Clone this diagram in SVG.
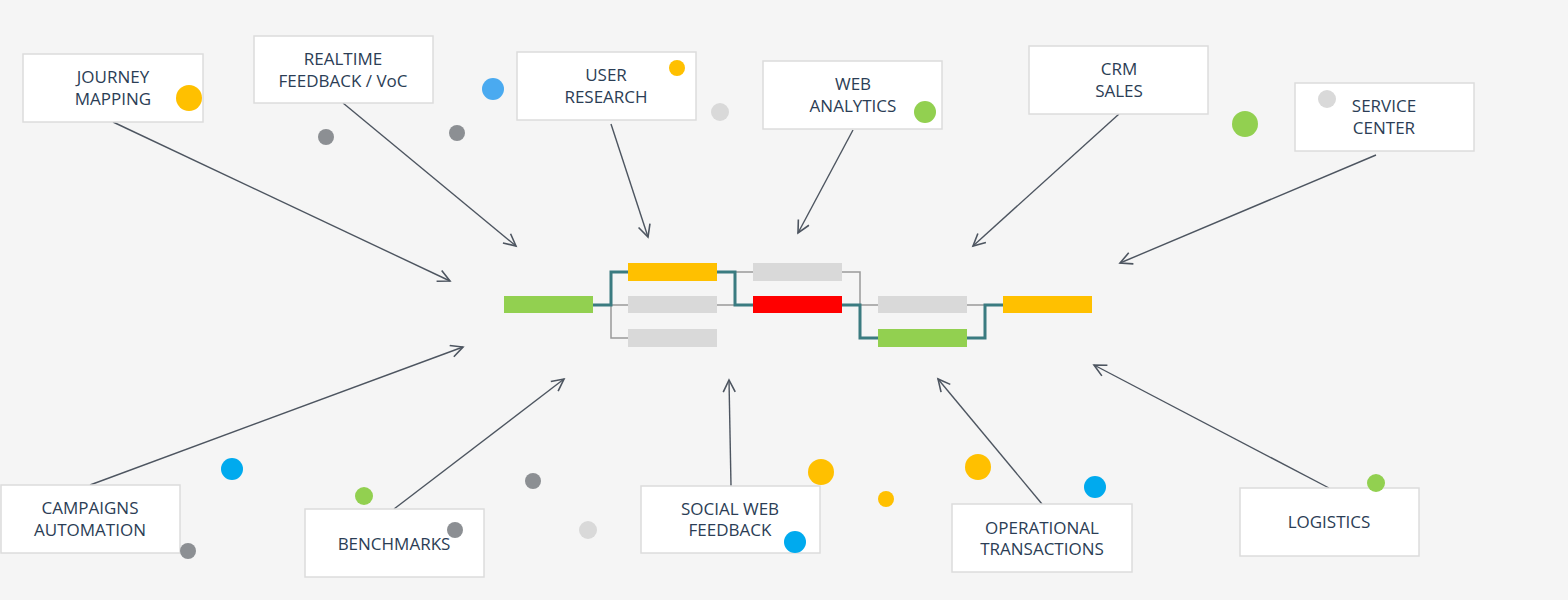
<svg xmlns="http://www.w3.org/2000/svg" width="1568" height="600" viewBox="0 0 1568 600">
<defs>
<style>
.box{fill:#ffffff;stroke:#dcdcdc;stroke-width:1.5}
.t{font-family:"Open Sans","Liberation Sans",sans-serif;font-size:17px;fill:#2b3d55;text-anchor:middle}
.arr{fill:none;stroke:#4d5560;stroke-width:1.4;marker-end:url(#ah)}
.thin{fill:none;stroke:#999999;stroke-width:1.5}
.thick{fill:none;stroke:#3a7b80;stroke-width:3}
.y{fill:#ffc000}.g{fill:#92d050}.r{fill:#ff0000}.lg{fill:#d9d9d9}.dg{fill:#8c8f93}.b{fill:#00aaee}.lb{fill:#4aaaf0}
</style>
<marker id="ah" markerWidth="16" markerHeight="16" refX="13" refY="7" orient="auto" markerUnits="userSpaceOnUse">
<path d="M1,1 L13,7 L1,13" fill="none" stroke="#4d5560" stroke-width="1.6"/>
</marker>
</defs>
<rect width="1568" height="600" fill="#f5f5f5"/>

<g id="connectors">
<line class="arr" x1="113" y1="122" x2="450" y2="281"/>
<line class="arr" x1="343" y1="103" x2="516" y2="246"/>
<line class="arr" x1="611" y1="124" x2="648" y2="237"/>
<line class="arr" x1="853" y1="130" x2="798" y2="233"/>
<line class="arr" x1="1119" y1="114" x2="973" y2="246"/>
<line class="arr" x1="1376" y1="155" x2="1120" y2="263"/>
<line class="arr" x1="90" y1="485" x2="463" y2="347"/>
<line class="arr" x1="394" y1="509" x2="564" y2="379"/>
<line class="arr" x1="731" y1="486" x2="729" y2="380"/>
<line class="arr" x1="1042" y1="504" x2="938" y2="379"/>
<line class="arr" x1="1329" y1="488" x2="1094" y2="365"/>
</g>

<g id="flow">
<path class="thin" d="M611,305 V338 H628 M611,305 H628"/>
<path class="thin" d="M735,272 H753 M717,305 H735"/>
<path class="thin" d="M842,272 H860 V305 H878"/>
<path class="thin" d="M967,305 H985"/>
<path class="thick" d="M593,305 H611 V272 H628"/>
<path class="thick" d="M717,272 H735 V305 H753"/>
<path class="thick" d="M842,305 H860 V338 H878"/>
<path class="thick" d="M967,338 H985 V305 H1003"/>
<rect class="g" x="504" y="296" width="89" height="17"/>
<rect class="y" x="628" y="263" width="89" height="18"/>
<rect class="lg" x="628" y="296" width="89" height="17"/>
<rect class="lg" x="628" y="329" width="89" height="18"/>
<rect class="lg" x="753" y="263" width="89" height="18"/>
<rect class="r" x="753" y="296" width="89" height="17"/>
<rect class="lg" x="878" y="296" width="89" height="17"/>
<rect class="g" x="878" y="329" width="89" height="18"/>
<rect class="y" x="1003" y="296" width="89" height="17"/>
</g>

<g id="journey-mapping">
<rect class="box" x="23" y="54" width="180" height="68"/>
<text class="t" x="113" y="83">JOURNEY</text>
<text class="t" x="113" y="105">MAPPING</text>
</g>
<g id="realtime-feedback">
<rect class="box" x="254" y="36" width="179" height="67"/>
<text class="t" x="343" y="65">REALTIME</text>
<text class="t" x="343" y="87">FEEDBACK / VoC</text>
</g>
<g id="user-research">
<rect class="box" x="517" y="52" width="179" height="68"/>
<text class="t" x="606" y="81">USER</text>
<text class="t" x="606" y="103">RESEARCH</text>
</g>
<g id="web-analytics">
<rect class="box" x="763" y="61" width="179" height="68"/>
<text class="t" x="853" y="90">WEB</text>
<text class="t" x="853" y="112">ANALYTICS</text>
</g>
<g id="crm-sales">
<rect class="box" x="1029" y="46" width="179" height="68"/>
<text class="t" x="1119" y="75">CRM</text>
<text class="t" x="1119" y="97">SALES</text>
</g>
<g id="service-center">
<rect class="box" x="1295" y="83" width="179" height="68"/>
<text class="t" x="1384" y="112">SERVICE</text>
<text class="t" x="1384" y="134">CENTER</text>
</g>
<g id="campaigns-automation">
<rect class="box" x="1" y="485" width="179" height="68"/>
<text class="t" x="90" y="514">CAMPAIGNS</text>
<text class="t" x="90" y="536">AUTOMATION</text>
</g>
<g id="benchmarks">
<rect class="box" x="305" y="509" width="179" height="68"/>
<text class="t" x="394" y="550">BENCHMARKS</text>
</g>
<g id="social-web-feedback">
<rect class="box" x="641" y="486" width="179" height="67"/>
<text class="t" x="730" y="515">SOCIAL WEB</text>
<text class="t" x="730" y="536">FEEDBACK</text>
</g>
<g id="operational-transactions">
<rect class="box" x="952" y="504" width="180" height="68"/>
<text class="t" x="1042" y="534">OPERATIONAL</text>
<text class="t" x="1042" y="555">TRANSACTIONS</text>
</g>
<g id="logistics">
<rect class="box" x="1240" y="488" width="179" height="68"/>
<text class="t" x="1329" y="528">LOGISTICS</text>
</g>

<g id="dots">
<circle class="y" cx="189" cy="98" r="13"/>
<circle class="y" cx="677" cy="68" r="8"/>
<circle class="g" cx="925" cy="112" r="11"/>
<circle class="lg" cx="1327" cy="99" r="9"/>
<circle class="dg" cx="188" cy="551" r="8"/>
<circle class="dg" cx="455" cy="530" r="8"/>
<circle class="b" cx="795" cy="542" r="11"/>
<circle class="g" cx="1376" cy="483" r="9"/>
<circle class="lb" cx="493" cy="89" r="11"/>
<circle class="dg" cx="326" cy="137" r="8"/>
<circle class="dg" cx="457" cy="133" r="8"/>
<circle class="lg" cx="720" cy="112" r="9"/>
<circle class="g" cx="1245" cy="124" r="13"/>
<circle class="b" cx="232" cy="469" r="11"/>
<circle class="g" cx="364" cy="496" r="9"/>
<circle class="dg" cx="533" cy="481" r="8"/>
<circle class="lg" cx="588" cy="530" r="9"/>
<circle class="y" cx="821" cy="472" r="13"/>
<circle class="y" cx="886" cy="499" r="8"/>
<circle class="y" cx="978" cy="467" r="13"/>
<circle class="b" cx="1095" cy="487" r="11"/>
</g>
</svg>
